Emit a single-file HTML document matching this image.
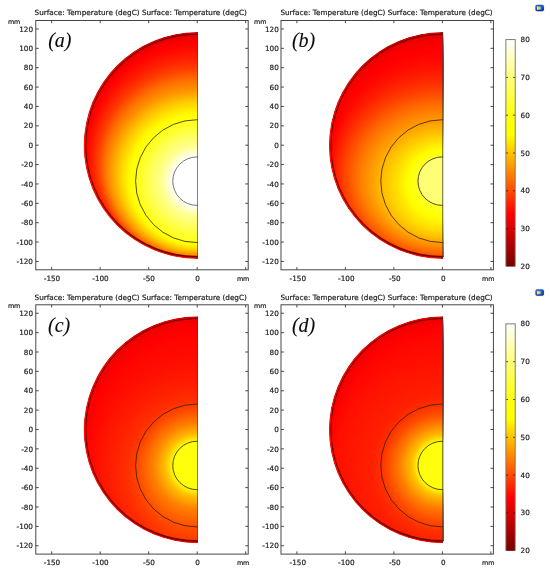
<!DOCTYPE html>
<html lang="en"><head><meta charset="utf-8"><title>Surface: Temperature (degC)</title><style>html,body{margin:0;padding:0;background:#fff}svg{display:block}</style></head><body>
<svg width="550" height="575" viewBox="0 0 550 575">
<rect width="550" height="575" fill="#fff"/>
<clipPath id="clipa"><path d="M197.90 32.07H197.00A113.43 113.43 0 0 0 197.00 258.93h0.9Z"/></clipPath>
<clipPath id="clipai"><circle cx="197.00" cy="145.50" r="111.21"/></clipPath>
<g clip-path="url(#clipa)">
<linearGradient id="sha" x1="0" y1="0" x2="0" y2="1"><stop offset="0" stop-color="#cc0000"/><stop offset="0.45" stop-color="#ff1800"/></linearGradient>
<circle cx="197.00" cy="145.50" r="113.43" fill="url(#sha)"/>
<g clip-path="url(#clipai)">
<ellipse cx="197.00" cy="151.80" rx="115.28" ry="117.70" fill="#e00000"/>
<ellipse cx="197.00" cy="152.18" rx="114.69" ry="116.92" fill="#e50000"/>
<ellipse cx="197.00" cy="152.57" rx="114.11" ry="116.15" fill="#eb0000"/>
<ellipse cx="197.00" cy="152.96" rx="113.53" ry="115.37" fill="#f00000"/>
<ellipse cx="197.00" cy="153.35" rx="112.95" ry="114.60" fill="#f50000"/>
<ellipse cx="197.00" cy="153.73" rx="112.37" ry="113.82" fill="#fa0000"/>
<ellipse cx="197.00" cy="154.15" rx="111.95" ry="113.13" fill="#fc0000"/>
<ellipse cx="197.00" cy="154.56" rx="111.54" ry="112.44" fill="#fe0000"/>
<ellipse cx="197.00" cy="154.98" rx="111.12" ry="111.75" fill="#ff0200"/>
<ellipse cx="197.00" cy="155.39" rx="110.71" ry="111.05" fill="#ff0400"/>
<ellipse cx="197.00" cy="155.81" rx="110.29" ry="110.36" fill="#ff0600"/>
<ellipse cx="197.00" cy="156.22" rx="109.88" ry="109.67" fill="#ff0800"/>
<ellipse cx="197.00" cy="156.64" rx="109.46" ry="108.98" fill="#ff0b00"/>
<ellipse cx="197.00" cy="157.06" rx="108.92" ry="108.19" fill="#ff0d00"/>
<ellipse cx="197.00" cy="157.49" rx="108.37" ry="107.40" fill="#ff1000"/>
<ellipse cx="197.00" cy="157.91" rx="107.83" ry="106.62" fill="#ff1300"/>
<ellipse cx="197.00" cy="158.34" rx="107.28" ry="105.83" fill="#ff1500"/>
<ellipse cx="197.00" cy="158.76" rx="106.74" ry="105.04" fill="#ff1800"/>
<ellipse cx="197.00" cy="159.18" rx="106.19" ry="104.26" fill="#ff1b00"/>
<ellipse cx="197.00" cy="159.61" rx="105.65" ry="103.47" fill="#ff1d00"/>
<ellipse cx="197.00" cy="160.03" rx="105.10" ry="102.68" fill="#ff2000"/>
<ellipse cx="197.00" cy="160.46" rx="104.46" ry="101.93" fill="#ff2300"/>
<ellipse cx="197.00" cy="160.89" rx="103.81" ry="101.18" fill="#ff2700"/>
<ellipse cx="197.00" cy="161.32" rx="103.17" ry="100.42" fill="#ff2a00"/>
<ellipse cx="197.00" cy="161.75" rx="102.52" ry="99.67" fill="#ff2e00"/>
<ellipse cx="197.00" cy="162.18" rx="101.87" ry="98.92" fill="#ff3200"/>
<ellipse cx="197.00" cy="162.61" rx="101.23" ry="98.16" fill="#ff3500"/>
<ellipse cx="197.00" cy="163.04" rx="100.58" ry="97.41" fill="#ff3900"/>
<ellipse cx="197.00" cy="163.47" rx="99.94" ry="96.65" fill="#ff3c00"/>
<ellipse cx="197.00" cy="163.91" rx="99.29" ry="95.90" fill="#ff4000"/>
<ellipse cx="197.00" cy="164.36" rx="98.59" ry="95.12" fill="#ff4500"/>
<ellipse cx="197.00" cy="164.82" rx="97.89" ry="94.34" fill="#ff4a00"/>
<ellipse cx="197.00" cy="165.28" rx="97.19" ry="93.56" fill="#ff5000"/>
<ellipse cx="197.00" cy="165.74" rx="96.49" ry="92.78" fill="#ff5500"/>
<ellipse cx="197.00" cy="166.19" rx="95.79" ry="92.00" fill="#ff5a00"/>
<ellipse cx="197.00" cy="166.65" rx="95.09" ry="91.22" fill="#ff6000"/>
<ellipse cx="197.00" cy="167.11" rx="94.39" ry="90.44" fill="#ff6500"/>
<ellipse cx="197.00" cy="167.56" rx="93.69" ry="89.66" fill="#ff6a00"/>
<ellipse cx="197.00" cy="168.02" rx="93.00" ry="88.88" fill="#ff7000"/>
<ellipse cx="197.00" cy="168.48" rx="92.35" ry="88.15" fill="#ff7400"/>
<ellipse cx="197.00" cy="168.94" rx="91.70" ry="87.43" fill="#ff7800"/>
<ellipse cx="197.00" cy="169.39" rx="91.06" ry="86.70" fill="#ff7c00"/>
<ellipse cx="197.00" cy="169.85" rx="90.41" ry="85.97" fill="#ff8000"/>
<ellipse cx="197.00" cy="170.31" rx="89.77" ry="85.25" fill="#ff8400"/>
<ellipse cx="197.00" cy="170.77" rx="89.12" ry="84.52" fill="#ff8800"/>
<ellipse cx="197.00" cy="171.22" rx="88.47" ry="83.79" fill="#ff8c00"/>
<ellipse cx="197.00" cy="171.68" rx="87.83" ry="83.07" fill="#ff9100"/>
<ellipse cx="197.00" cy="172.14" rx="87.18" ry="82.34" fill="#ff9500"/>
<ellipse cx="197.00" cy="172.43" rx="86.42" ry="81.73" fill="#ff9900"/>
<ellipse cx="197.00" cy="172.72" rx="85.65" ry="81.11" fill="#ff9e00"/>
<ellipse cx="197.00" cy="173.01" rx="84.88" ry="80.50" fill="#ffa200"/>
<ellipse cx="197.00" cy="173.30" rx="84.12" ry="79.89" fill="#ffa600"/>
<ellipse cx="197.00" cy="173.59" rx="83.35" ry="79.27" fill="#ffab00"/>
<ellipse cx="197.00" cy="173.88" rx="82.58" ry="78.66" fill="#ffaf00"/>
<ellipse cx="197.00" cy="174.17" rx="81.81" ry="78.04" fill="#ffb400"/>
<ellipse cx="197.00" cy="174.46" rx="81.05" ry="77.43" fill="#ffb800"/>
<ellipse cx="197.00" cy="174.75" rx="80.28" ry="76.82" fill="#ffbd00"/>
<ellipse cx="197.00" cy="175.05" rx="79.51" ry="76.20" fill="#ffc100"/>
<ellipse cx="197.00" cy="175.34" rx="78.75" ry="75.59" fill="#ffc500"/>
<ellipse cx="197.00" cy="175.63" rx="77.98" ry="74.98" fill="#ffca00"/>
<ellipse cx="197.00" cy="175.92" rx="77.23" ry="74.29" fill="#ffce00"/>
<ellipse cx="197.00" cy="176.21" rx="76.48" ry="73.60" fill="#ffd200"/>
<ellipse cx="197.00" cy="176.50" rx="75.73" ry="72.92" fill="#ffd500"/>
<ellipse cx="197.00" cy="176.79" rx="74.99" ry="72.23" fill="#ffd900"/>
<ellipse cx="197.00" cy="177.08" rx="74.24" ry="71.54" fill="#ffdd00"/>
<ellipse cx="197.00" cy="177.37" rx="73.49" ry="70.86" fill="#ffe100"/>
<ellipse cx="197.00" cy="177.66" rx="72.74" ry="70.17" fill="#ffe500"/>
<ellipse cx="197.00" cy="177.95" rx="71.99" ry="69.48" fill="#ffe900"/>
<ellipse cx="197.00" cy="178.24" rx="71.24" ry="68.80" fill="#ffed00"/>
<ellipse cx="197.00" cy="178.53" rx="70.49" ry="68.11" fill="#fff100"/>
<ellipse cx="197.00" cy="178.82" rx="69.75" ry="67.42" fill="#fff400"/>
<ellipse cx="197.00" cy="179.03" rx="68.99" ry="66.88" fill="#fff700"/>
<ellipse cx="197.00" cy="179.25" rx="68.23" ry="66.33" fill="#fffa00"/>
<ellipse cx="197.00" cy="179.46" rx="67.47" ry="65.78" fill="#fffd00"/>
<ellipse cx="197.00" cy="179.67" rx="66.72" ry="65.24" fill="#ffff01"/>
<ellipse cx="197.00" cy="179.88" rx="65.96" ry="64.69" fill="#ffff04"/>
<ellipse cx="197.00" cy="180.09" rx="65.20" ry="64.15" fill="#ffff07"/>
<ellipse cx="197.00" cy="180.30" rx="64.44" ry="63.60" fill="#ffff0b"/>
<ellipse cx="197.00" cy="180.51" rx="63.69" ry="63.05" fill="#ffff0e"/>
<ellipse cx="197.00" cy="180.73" rx="62.93" ry="62.51" fill="#ffff11"/>
<ellipse cx="197.00" cy="180.94" rx="62.17" ry="61.96" fill="#ffff14"/>
<circle cx="197.00" cy="181.15" r="61.42" fill="#ffff17"/>
<circle cx="197.00" cy="181.15" r="60.64" fill="#ffff1a"/>
<circle cx="197.00" cy="181.15" r="59.87" fill="#ffff1d"/>
<circle cx="197.00" cy="181.15" r="59.09" fill="#ffff20"/>
<circle cx="197.00" cy="181.15" r="58.32" fill="#ffff23"/>
<circle cx="197.00" cy="181.15" r="57.54" fill="#ffff26"/>
<circle cx="197.00" cy="181.15" r="56.77" fill="#ffff29"/>
<circle cx="197.00" cy="181.15" r="55.99" fill="#ffff2b"/>
<circle cx="197.00" cy="181.15" r="55.22" fill="#ffff2e"/>
<circle cx="197.00" cy="181.15" r="54.42" fill="#ffff33"/>
<circle cx="197.00" cy="181.15" r="53.63" fill="#ffff37"/>
<circle cx="197.00" cy="181.15" r="52.84" fill="#ffff3b"/>
<circle cx="197.00" cy="181.15" r="52.05" fill="#ffff3f"/>
<circle cx="197.00" cy="181.15" r="51.25" fill="#ffff43"/>
<circle cx="197.00" cy="181.15" r="50.46" fill="#ffff48"/>
<circle cx="197.00" cy="181.15" r="49.67" fill="#ffff4c"/>
<circle cx="197.00" cy="181.15" r="48.88" fill="#ffff50"/>
<circle cx="197.00" cy="181.15" r="48.08" fill="#ffff54"/>
<circle cx="197.00" cy="181.15" r="47.29" fill="#ffff59"/>
<circle cx="197.00" cy="181.15" r="46.50" fill="#ffff5d"/>
<circle cx="197.00" cy="181.15" r="45.74" fill="#ffff60"/>
<circle cx="197.00" cy="181.15" r="44.98" fill="#ffff64"/>
<circle cx="197.00" cy="181.15" r="44.21" fill="#ffff68"/>
<circle cx="197.00" cy="181.15" r="43.45" fill="#ffff6c"/>
<circle cx="197.00" cy="181.15" r="42.69" fill="#ffff6f"/>
<circle cx="197.00" cy="181.15" r="41.93" fill="#ffff73"/>
<circle cx="197.00" cy="181.15" r="41.17" fill="#ffff77"/>
<circle cx="197.00" cy="181.15" r="40.41" fill="#ffff7b"/>
<circle cx="197.00" cy="181.15" r="39.65" fill="#ffff7e"/>
<circle cx="197.00" cy="181.15" r="38.89" fill="#ffff82"/>
<circle cx="197.00" cy="181.15" r="38.13" fill="#ffff86"/>
<circle cx="197.00" cy="181.15" r="37.36" fill="#ffff89"/>
<circle cx="197.00" cy="181.15" r="36.60" fill="#ffff8d"/>
<circle cx="197.00" cy="181.15" r="35.84" fill="#ffff91"/>
<circle cx="197.00" cy="181.15" r="35.09" fill="#ffff98"/>
<circle cx="197.00" cy="181.15" r="34.34" fill="#ffff9f"/>
<circle cx="197.00" cy="181.15" r="33.58" fill="#ffffa6"/>
<circle cx="197.00" cy="181.15" r="32.83" fill="#ffffad"/>
<circle cx="197.00" cy="181.15" r="32.07" fill="#ffffb4"/>
<circle cx="197.00" cy="181.15" r="31.32" fill="#ffffbb"/>
<circle cx="197.00" cy="181.15" r="30.57" fill="#ffffc2"/>
<circle cx="197.00" cy="181.15" r="29.81" fill="#ffffca"/>
<circle cx="197.00" cy="181.15" r="29.06" fill="#ffffd1"/>
<circle cx="197.00" cy="181.15" r="28.37" fill="#ffffd7"/>
<circle cx="197.00" cy="181.15" r="27.68" fill="#ffffde"/>
<circle cx="197.00" cy="181.15" r="26.99" fill="#ffffe5"/>
<circle cx="197.00" cy="181.15" r="26.29" fill="#ffffeb"/>
<circle cx="197.00" cy="181.15" r="25.60" fill="#fffff2"/>
<circle cx="197.00" cy="181.15" r="24.91" fill="#fffff8"/>
<circle cx="197.00" cy="181.15" r="24.22" fill="#ffffff"/>
<circle cx="197.00" cy="181.15" r="24.22" fill="#ffffff"/>
</g>
<g fill="none">
<linearGradient id="bda" x1="0" y1="0" x2="0" y2="1"><stop offset="0.55" stop-color="#8a0000" stop-opacity="0"/><stop offset="0.92" stop-color="#8a0000" stop-opacity="0.7"/></linearGradient>
<circle cx="197.00" cy="145.50" r="111.31" stroke="url(#bda)" stroke-width="2.0"/>
<circle cx="197.00" cy="145.50" r="111.21" stroke="#4a0000" stroke-width="0.85"/>
<circle cx="197.00" cy="181.15" r="61.42" stroke="#2e1c00" stroke-width="0.78"/>
<circle cx="197.00" cy="181.15" r="24.22" stroke="#666666" stroke-width="0.9"/>
</g>
<rect x="197.20" y="32.07" width="0.7" height="226.87" fill="#3c3c30"/>
</g>
<rect x="35.80" y="20.50" width="212.40" height="249.30" fill="none" stroke="#3e3e3e" stroke-width="0.95"/>
<path d="M35.80 261.44h2.9M248.20 261.44h-2.9M35.80 242.07h2.9M248.20 242.07h-2.9M35.80 222.70h2.9M248.20 222.70h-2.9M35.80 203.32h2.9M248.20 203.32h-2.9M35.80 183.95h2.9M248.20 183.95h-2.9M35.80 164.57h2.9M248.20 164.57h-2.9M35.80 145.20h2.9M248.20 145.20h-2.9M35.80 125.83h2.9M248.20 125.83h-2.9M35.80 106.45h2.9M248.20 106.45h-2.9M35.80 87.08h2.9M248.20 87.08h-2.9M35.80 67.70h2.9M248.20 67.70h-2.9M35.80 48.33h2.9M248.20 48.33h-2.9M35.80 28.96h2.9M248.20 28.96h-2.9M51.70 20.50v2.7M51.70 269.80v-2.7M100.20 20.50v2.7M100.20 269.80v-2.7M148.70 20.50v2.7M148.70 269.80v-2.7M197.20 20.50v2.7M197.20 269.80v-2.7M245.70 20.50v2.7M245.70 269.80v-2.7" stroke="#3e3e3e" stroke-width="0.95" fill="none"/>
<g font-family='"DejaVu Sans","Liberation Sans",sans-serif' font-size="7.25" fill="#262626" stroke="#262626" stroke-width="0.22">
<text x="33.00" y="264.09" text-anchor="end">-120</text>
<text x="33.00" y="244.72" text-anchor="end">-100</text>
<text x="33.00" y="225.35" text-anchor="end">-80</text>
<text x="33.00" y="205.97" text-anchor="end">-60</text>
<text x="33.00" y="186.60" text-anchor="end">-40</text>
<text x="33.00" y="167.22" text-anchor="end">-20</text>
<text x="33.00" y="147.85" text-anchor="end">0</text>
<text x="33.00" y="128.48" text-anchor="end">20</text>
<text x="33.00" y="109.10" text-anchor="end">40</text>
<text x="33.00" y="89.73" text-anchor="end">60</text>
<text x="33.00" y="70.35" text-anchor="end">80</text>
<text x="33.00" y="50.98" text-anchor="end">100</text>
<text x="33.00" y="31.61" text-anchor="end">120</text>
<text x="52.00" y="280.80" text-anchor="middle">-150</text>
<text x="100.50" y="280.80" text-anchor="middle">-100</text>
<text x="149.00" y="280.80" text-anchor="middle">-50</text>
<text x="197.50" y="280.80" text-anchor="middle">0</text>
<text x="7.90" y="23.70" font-size="6.4">mm</text>
<text x="236.90" y="280.60" font-size="6.4">mm</text>
<text x="34.60" y="15.20">Surface: Temperature (degC) Surface: Temperature (degC)</text>
</g>
<text x="48.20" y="46.70" font-family='"Liberation Serif",serif' font-style="italic" font-size="20" fill="#0a0a0a" stroke="#0a0a0a" stroke-width="0.1">(a)</text>
<clipPath id="clipb"><path d="M443.10 32.07H442.20A113.43 113.43 0 0 0 442.20 258.93h0.9Z"/></clipPath>
<clipPath id="clipbi"><circle cx="442.20" cy="145.50" r="111.21"/></clipPath>
<g clip-path="url(#clipb)">
<linearGradient id="shb" x1="0" y1="0" x2="0" y2="1"><stop offset="0" stop-color="#d00000"/><stop offset="0.45" stop-color="#ff1400"/></linearGradient>
<circle cx="442.20" cy="145.50" r="113.43" fill="url(#shb)"/>
<g clip-path="url(#clipbi)">
<ellipse cx="442.20" cy="152.77" rx="116.73" ry="118.67" fill="#e00000"/>
<ellipse cx="442.20" cy="153.25" rx="116.24" ry="117.99" fill="#e40000"/>
<ellipse cx="442.20" cy="153.73" rx="115.76" ry="117.31" fill="#e90000"/>
<ellipse cx="442.20" cy="154.22" rx="115.28" ry="116.63" fill="#ed0000"/>
<ellipse cx="442.20" cy="154.70" rx="114.79" ry="115.95" fill="#f10000"/>
<ellipse cx="442.20" cy="155.19" rx="114.31" ry="115.28" fill="#f50000"/>
<ellipse cx="442.20" cy="155.74" rx="114.03" ry="114.58" fill="#f70000"/>
<ellipse cx="442.20" cy="156.29" rx="113.75" ry="113.89" fill="#f80000"/>
<ellipse cx="442.20" cy="156.85" rx="113.48" ry="113.20" fill="#f90000"/>
<ellipse cx="442.20" cy="157.40" rx="113.20" ry="112.51" fill="#fb0000"/>
<ellipse cx="442.20" cy="157.95" rx="112.92" ry="111.82" fill="#fc0000"/>
<ellipse cx="442.20" cy="158.51" rx="112.65" ry="111.12" fill="#fe0000"/>
<ellipse cx="442.20" cy="159.06" rx="112.37" ry="110.43" fill="#ff0000"/>
<ellipse cx="442.20" cy="159.60" rx="112.15" ry="109.68" fill="#ff0100"/>
<ellipse cx="442.20" cy="160.14" rx="111.94" ry="108.92" fill="#ff0200"/>
<ellipse cx="442.20" cy="160.68" rx="111.72" ry="108.17" fill="#ff0400"/>
<ellipse cx="442.20" cy="161.21" rx="111.51" ry="107.42" fill="#ff0500"/>
<ellipse cx="442.20" cy="161.75" rx="111.29" ry="106.66" fill="#ff0600"/>
<ellipse cx="442.20" cy="162.29" rx="111.08" ry="105.91" fill="#ff0700"/>
<ellipse cx="442.20" cy="162.83" rx="110.86" ry="105.16" fill="#ff0800"/>
<ellipse cx="442.20" cy="163.37" rx="110.65" ry="104.40" fill="#ff0900"/>
<ellipse cx="442.20" cy="163.91" rx="110.43" ry="103.65" fill="#ff0b00"/>
<ellipse cx="442.20" cy="164.43" rx="110.08" ry="102.86" fill="#ff0d00"/>
<ellipse cx="442.20" cy="164.96" rx="109.73" ry="102.07" fill="#ff0e00"/>
<ellipse cx="442.20" cy="165.49" rx="109.38" ry="101.27" fill="#ff1000"/>
<ellipse cx="442.20" cy="166.02" rx="109.02" ry="100.48" fill="#ff1200"/>
<ellipse cx="442.20" cy="166.55" rx="108.67" ry="99.69" fill="#ff1400"/>
<ellipse cx="442.20" cy="167.08" rx="108.32" ry="98.90" fill="#ff1600"/>
<ellipse cx="442.20" cy="167.60" rx="107.97" ry="98.10" fill="#ff1800"/>
<ellipse cx="442.20" cy="168.13" rx="107.61" ry="97.31" fill="#ff1a00"/>
<ellipse cx="442.20" cy="168.66" rx="107.26" ry="96.52" fill="#ff1c00"/>
<ellipse cx="442.20" cy="169.19" rx="106.91" ry="95.73" fill="#ff1e00"/>
<ellipse cx="442.20" cy="169.72" rx="106.56" ry="94.93" fill="#ff2000"/>
<ellipse cx="442.20" cy="170.09" rx="106.01" ry="94.19" fill="#ff2200"/>
<ellipse cx="442.20" cy="170.46" rx="105.47" ry="93.44" fill="#ff2500"/>
<ellipse cx="442.20" cy="170.84" rx="104.93" ry="92.70" fill="#ff2700"/>
<ellipse cx="442.20" cy="171.21" rx="104.38" ry="91.95" fill="#ff2a00"/>
<ellipse cx="442.20" cy="171.58" rx="103.84" ry="91.21" fill="#ff2c00"/>
<ellipse cx="442.20" cy="171.95" rx="103.29" ry="90.46" fill="#ff2f00"/>
<ellipse cx="442.20" cy="172.33" rx="102.75" ry="89.72" fill="#ff3100"/>
<ellipse cx="442.20" cy="172.70" rx="102.21" ry="88.97" fill="#ff3300"/>
<ellipse cx="442.20" cy="173.07" rx="101.66" ry="88.23" fill="#ff3600"/>
<ellipse cx="442.20" cy="173.44" rx="101.12" ry="87.48" fill="#ff3800"/>
<ellipse cx="442.20" cy="173.82" rx="100.57" ry="86.74" fill="#ff3b00"/>
<ellipse cx="442.20" cy="174.19" rx="100.03" ry="85.99" fill="#ff3d00"/>
<ellipse cx="442.20" cy="174.56" rx="99.49" ry="85.25" fill="#ff4000"/>
<ellipse cx="442.20" cy="174.76" rx="98.74" ry="84.60" fill="#ff4200"/>
<ellipse cx="442.20" cy="174.96" rx="98.00" ry="83.95" fill="#ff4500"/>
<ellipse cx="442.20" cy="175.17" rx="97.26" ry="83.31" fill="#ff4800"/>
<ellipse cx="442.20" cy="175.37" rx="96.51" ry="82.66" fill="#ff4a00"/>
<ellipse cx="442.20" cy="175.57" rx="95.77" ry="82.02" fill="#ff4d00"/>
<ellipse cx="442.20" cy="175.77" rx="95.03" ry="81.37" fill="#ff5000"/>
<ellipse cx="442.20" cy="175.97" rx="94.29" ry="80.73" fill="#ff5200"/>
<ellipse cx="442.20" cy="176.18" rx="93.54" ry="80.08" fill="#ff5500"/>
<ellipse cx="442.20" cy="176.38" rx="92.80" ry="79.43" fill="#ff5800"/>
<ellipse cx="442.20" cy="176.58" rx="92.06" ry="78.79" fill="#ff5a00"/>
<ellipse cx="442.20" cy="176.78" rx="91.32" ry="78.14" fill="#ff5d00"/>
<ellipse cx="442.20" cy="176.98" rx="90.57" ry="77.50" fill="#ff6000"/>
<ellipse cx="442.20" cy="177.20" rx="89.84" ry="76.79" fill="#ff6200"/>
<ellipse cx="442.20" cy="177.43" rx="89.10" ry="76.08" fill="#ff6500"/>
<ellipse cx="442.20" cy="177.65" rx="88.37" ry="75.38" fill="#ff6800"/>
<ellipse cx="442.20" cy="177.87" rx="87.64" ry="74.67" fill="#ff6a00"/>
<ellipse cx="442.20" cy="178.09" rx="86.90" ry="73.96" fill="#ff6d00"/>
<ellipse cx="442.20" cy="178.31" rx="86.17" ry="73.26" fill="#ff7000"/>
<ellipse cx="442.20" cy="178.54" rx="85.43" ry="72.55" fill="#ff7200"/>
<ellipse cx="442.20" cy="178.76" rx="84.70" ry="71.85" fill="#ff7500"/>
<ellipse cx="442.20" cy="178.98" rx="83.96" ry="71.14" fill="#ff7800"/>
<ellipse cx="442.20" cy="179.20" rx="83.23" ry="70.43" fill="#ff7a00"/>
<ellipse cx="442.20" cy="179.42" rx="82.49" ry="69.73" fill="#ff7d00"/>
<ellipse cx="442.20" cy="179.65" rx="81.76" ry="69.02" fill="#ff8000"/>
<ellipse cx="442.20" cy="179.85" rx="80.97" ry="68.40" fill="#ff8200"/>
<ellipse cx="442.20" cy="180.06" rx="80.18" ry="67.77" fill="#ff8400"/>
<ellipse cx="442.20" cy="180.27" rx="79.39" ry="67.15" fill="#ff8600"/>
<ellipse cx="442.20" cy="180.48" rx="78.60" ry="66.53" fill="#ff8900"/>
<ellipse cx="442.20" cy="180.68" rx="77.81" ry="65.91" fill="#ff8b00"/>
<ellipse cx="442.20" cy="180.89" rx="77.03" ry="65.28" fill="#ff8d00"/>
<ellipse cx="442.20" cy="181.10" rx="76.24" ry="64.66" fill="#ff8f00"/>
<ellipse cx="442.20" cy="181.31" rx="75.45" ry="64.04" fill="#ff9200"/>
<ellipse cx="442.20" cy="181.51" rx="74.66" ry="63.42" fill="#ff9400"/>
<ellipse cx="442.20" cy="181.72" rx="73.87" ry="62.79" fill="#ff9600"/>
<ellipse cx="442.20" cy="181.93" rx="73.08" ry="62.17" fill="#ff9900"/>
<ellipse cx="442.20" cy="182.14" rx="72.29" ry="61.55" fill="#ff9b00"/>
<ellipse cx="442.20" cy="182.35" rx="71.50" ry="60.92" fill="#ff9d00"/>
<ellipse cx="442.20" cy="182.55" rx="70.72" ry="60.30" fill="#ff9f00"/>
<ellipse cx="442.20" cy="182.70" rx="69.97" ry="59.80" fill="#ffa200"/>
<ellipse cx="442.20" cy="182.84" rx="69.22" ry="59.30" fill="#ffa400"/>
<ellipse cx="442.20" cy="182.99" rx="68.47" ry="58.80" fill="#ffa600"/>
<ellipse cx="442.20" cy="183.13" rx="67.72" ry="58.30" fill="#ffa800"/>
<ellipse cx="442.20" cy="183.28" rx="66.97" ry="57.80" fill="#ffaa00"/>
<ellipse cx="442.20" cy="183.42" rx="66.22" ry="57.30" fill="#ffac00"/>
<ellipse cx="442.20" cy="183.57" rx="65.47" ry="56.80" fill="#ffae00"/>
<ellipse cx="442.20" cy="183.72" rx="64.72" ry="56.30" fill="#ffb000"/>
<ellipse cx="442.20" cy="183.86" rx="63.97" ry="55.80" fill="#ffb200"/>
<ellipse cx="442.20" cy="184.01" rx="63.22" ry="55.30" fill="#ffb500"/>
<ellipse cx="442.20" cy="184.15" rx="62.47" ry="54.80" fill="#ffb700"/>
<ellipse cx="442.20" cy="184.30" rx="61.73" ry="54.30" fill="#ffb900"/>
<ellipse cx="442.20" cy="184.44" rx="60.98" ry="53.80" fill="#ffbb00"/>
<ellipse cx="442.20" cy="184.59" rx="60.23" ry="53.29" fill="#ffbd00"/>
<ellipse cx="442.20" cy="184.73" rx="59.48" ry="52.79" fill="#ffbf00"/>
<ellipse cx="442.20" cy="184.76" rx="58.70" ry="52.31" fill="#ffc100"/>
<ellipse cx="442.20" cy="184.79" rx="57.92" ry="51.83" fill="#ffc300"/>
<ellipse cx="442.20" cy="184.82" rx="57.14" ry="51.34" fill="#ffc500"/>
<ellipse cx="442.20" cy="184.85" rx="56.36" ry="50.86" fill="#ffc700"/>
<ellipse cx="442.20" cy="184.87" rx="55.57" ry="50.37" fill="#ffc900"/>
<ellipse cx="442.20" cy="184.90" rx="54.79" ry="49.89" fill="#ffcb00"/>
<ellipse cx="442.20" cy="184.93" rx="54.01" ry="49.40" fill="#ffcc00"/>
<ellipse cx="442.20" cy="184.96" rx="53.23" ry="48.92" fill="#ffce00"/>
<ellipse cx="442.20" cy="184.99" rx="52.45" ry="48.44" fill="#ffd000"/>
<ellipse cx="442.20" cy="185.02" rx="51.67" ry="47.95" fill="#ffd200"/>
<ellipse cx="442.20" cy="185.05" rx="50.89" ry="47.47" fill="#ffd400"/>
<ellipse cx="442.20" cy="185.07" rx="50.11" ry="46.98" fill="#ffd600"/>
<ellipse cx="442.20" cy="185.10" rx="49.33" ry="46.50" fill="#ffd800"/>
<ellipse cx="442.20" cy="185.13" rx="48.55" ry="46.01" fill="#ffda00"/>
<ellipse cx="442.20" cy="185.16" rx="47.77" ry="45.53" fill="#ffdb00"/>
<ellipse cx="442.20" cy="185.19" rx="46.99" ry="45.04" fill="#ffdd00"/>
<ellipse cx="442.20" cy="185.22" rx="46.21" ry="44.56" fill="#ffdf00"/>
<ellipse cx="442.20" cy="185.12" rx="45.45" ry="43.88" fill="#ffe100"/>
<ellipse cx="442.20" cy="185.02" rx="44.70" ry="43.20" fill="#ffe300"/>
<ellipse cx="442.20" cy="184.93" rx="43.94" ry="42.53" fill="#ffe600"/>
<ellipse cx="442.20" cy="184.83" rx="43.18" ry="41.85" fill="#ffe800"/>
<ellipse cx="442.20" cy="184.73" rx="42.43" ry="41.17" fill="#ffea00"/>
<ellipse cx="442.20" cy="184.64" rx="41.67" ry="40.49" fill="#ffec00"/>
<ellipse cx="442.20" cy="184.54" rx="40.92" ry="39.81" fill="#ffee00"/>
<ellipse cx="442.20" cy="184.44" rx="40.16" ry="39.14" fill="#fff000"/>
<ellipse cx="442.20" cy="184.34" rx="39.41" ry="38.46" fill="#fff200"/>
<ellipse cx="442.20" cy="184.25" rx="38.65" ry="37.78" fill="#fff400"/>
<ellipse cx="442.20" cy="184.15" rx="37.90" ry="37.10" fill="#fff700"/>
<ellipse cx="442.20" cy="184.05" rx="37.14" ry="36.42" fill="#fff900"/>
<ellipse cx="442.20" cy="183.96" rx="36.38" ry="35.75" fill="#fffb00"/>
<ellipse cx="442.20" cy="183.86" rx="35.63" ry="35.07" fill="#fffd00"/>
<ellipse cx="442.20" cy="183.76" rx="34.87" ry="34.39" fill="#ffff00"/>
<ellipse cx="442.20" cy="183.58" rx="34.11" ry="33.66" fill="#ffff03"/>
<ellipse cx="442.20" cy="183.39" rx="33.35" ry="32.94" fill="#ffff06"/>
<ellipse cx="442.20" cy="183.20" rx="32.59" ry="32.21" fill="#ffff09"/>
<ellipse cx="442.20" cy="183.02" rx="31.83" ry="31.48" fill="#ffff0c"/>
<ellipse cx="442.20" cy="182.83" rx="31.07" ry="30.76" fill="#ffff0e"/>
<ellipse cx="442.20" cy="182.64" rx="30.31" ry="30.03" fill="#ffff11"/>
<ellipse cx="442.20" cy="182.46" rx="29.55" ry="29.30" fill="#ffff14"/>
<ellipse cx="442.20" cy="182.27" rx="28.78" ry="28.58" fill="#ffff17"/>
<ellipse cx="442.20" cy="182.08" rx="28.02" ry="27.85" fill="#ffff1a"/>
<ellipse cx="442.20" cy="181.90" rx="27.26" ry="27.12" fill="#ffff1d"/>
<ellipse cx="442.20" cy="181.71" rx="26.50" ry="26.40" fill="#ffff20"/>
<ellipse cx="442.20" cy="181.52" rx="25.74" ry="25.67" fill="#ffff23"/>
<ellipse cx="442.20" cy="181.33" rx="24.98" ry="24.94" fill="#ffff26"/>
<circle cx="442.20" cy="181.15" r="24.22" fill="#ffff29"/>
<circle cx="442.20" cy="181.15" r="24.22" fill="#ffff74"/>
</g>
<g fill="none">
<linearGradient id="bdb" x1="0" y1="0" x2="0" y2="1"><stop offset="0.55" stop-color="#8a0000" stop-opacity="0"/><stop offset="0.92" stop-color="#8a0000" stop-opacity="0.7"/></linearGradient>
<circle cx="442.20" cy="145.50" r="111.31" stroke="url(#bdb)" stroke-width="2.0"/>
<circle cx="442.20" cy="145.50" r="111.21" stroke="#4a0000" stroke-width="0.85"/>
<circle cx="442.20" cy="181.15" r="61.42" stroke="#2e1c00" stroke-width="0.78"/>
<circle cx="442.20" cy="181.15" r="24.22" stroke="#3a3a10" stroke-width="0.9"/>
</g>
<rect x="442.40" y="32.07" width="0.7" height="226.87" fill="#3c3c30"/>
</g>
<rect x="281.00" y="20.50" width="212.40" height="249.30" fill="none" stroke="#3e3e3e" stroke-width="0.95"/>
<path d="M281.00 261.44h2.9M493.40 261.44h-2.9M281.00 242.07h2.9M493.40 242.07h-2.9M281.00 222.70h2.9M493.40 222.70h-2.9M281.00 203.32h2.9M493.40 203.32h-2.9M281.00 183.95h2.9M493.40 183.95h-2.9M281.00 164.57h2.9M493.40 164.57h-2.9M281.00 145.20h2.9M493.40 145.20h-2.9M281.00 125.83h2.9M493.40 125.83h-2.9M281.00 106.45h2.9M493.40 106.45h-2.9M281.00 87.08h2.9M493.40 87.08h-2.9M281.00 67.70h2.9M493.40 67.70h-2.9M281.00 48.33h2.9M493.40 48.33h-2.9M281.00 28.96h2.9M493.40 28.96h-2.9M296.90 20.50v2.7M296.90 269.80v-2.7M345.40 20.50v2.7M345.40 269.80v-2.7M393.90 20.50v2.7M393.90 269.80v-2.7M442.40 20.50v2.7M442.40 269.80v-2.7M490.90 20.50v2.7M490.90 269.80v-2.7" stroke="#3e3e3e" stroke-width="0.95" fill="none"/>
<g font-family='"DejaVu Sans","Liberation Sans",sans-serif' font-size="7.25" fill="#262626" stroke="#262626" stroke-width="0.22">
<text x="278.80" y="264.09" text-anchor="end">-120</text>
<text x="278.80" y="244.72" text-anchor="end">-100</text>
<text x="278.80" y="225.35" text-anchor="end">-80</text>
<text x="278.80" y="205.97" text-anchor="end">-60</text>
<text x="278.80" y="186.60" text-anchor="end">-40</text>
<text x="278.80" y="167.22" text-anchor="end">-20</text>
<text x="278.80" y="147.85" text-anchor="end">0</text>
<text x="278.80" y="128.48" text-anchor="end">20</text>
<text x="278.80" y="109.10" text-anchor="end">40</text>
<text x="278.80" y="89.73" text-anchor="end">60</text>
<text x="278.80" y="70.35" text-anchor="end">80</text>
<text x="278.80" y="50.98" text-anchor="end">100</text>
<text x="278.80" y="31.61" text-anchor="end">120</text>
<text x="297.80" y="280.80" text-anchor="middle">-150</text>
<text x="346.30" y="280.80" text-anchor="middle">-100</text>
<text x="394.80" y="280.80" text-anchor="middle">-50</text>
<text x="443.30" y="280.80" text-anchor="middle">0</text>
<text x="254.00" y="23.70" font-size="6.4">mm</text>
<text x="482.10" y="280.60" font-size="6.4">mm</text>
<text x="280.40" y="15.20">Surface: Temperature (degC) Surface: Temperature (degC)</text>
</g>
<text x="291.90" y="46.50" font-family='"Liberation Serif",serif' font-style="italic" font-size="20" fill="#0a0a0a" stroke="#0a0a0a" stroke-width="0.1">(b)</text>
<clipPath id="clipc"><path d="M197.90 316.37H197.00A113.43 113.43 0 0 0 197.00 543.23h0.9Z"/></clipPath>
<clipPath id="clipci"><circle cx="197.00" cy="429.80" r="111.21"/></clipPath>
<g clip-path="url(#clipc)">
<linearGradient id="shc" x1="0" y1="0" x2="0" y2="1"><stop offset="0" stop-color="#e00000"/><stop offset="0.45" stop-color="#ff1000"/></linearGradient>
<circle cx="197.00" cy="429.80" r="113.43" fill="url(#shc)"/>
<g clip-path="url(#clipci)">
<ellipse cx="197.00" cy="445.30" rx="117.21" ry="126.90" fill="#ec0000"/>
<ellipse cx="197.00" cy="445.70" rx="116.65" ry="126.17" fill="#ee0000"/>
<ellipse cx="197.00" cy="446.11" rx="116.08" ry="125.45" fill="#f10000"/>
<ellipse cx="197.00" cy="446.51" rx="115.52" ry="124.72" fill="#f30000"/>
<ellipse cx="197.00" cy="446.91" rx="114.95" ry="123.99" fill="#f50000"/>
<ellipse cx="197.00" cy="447.32" rx="114.39" ry="123.27" fill="#f80000"/>
<ellipse cx="197.00" cy="447.72" rx="113.82" ry="122.54" fill="#fa0000"/>
<ellipse cx="197.00" cy="448.21" rx="113.39" ry="121.77" fill="#fb0000"/>
<ellipse cx="197.00" cy="448.69" rx="112.95" ry="120.99" fill="#fc0000"/>
<ellipse cx="197.00" cy="449.17" rx="112.51" ry="120.22" fill="#fd0000"/>
<ellipse cx="197.00" cy="449.66" rx="112.08" ry="119.44" fill="#fe0000"/>
<ellipse cx="197.00" cy="450.14" rx="111.64" ry="118.67" fill="#ff0000"/>
<ellipse cx="197.00" cy="450.63" rx="111.21" ry="117.89" fill="#ff0100"/>
<ellipse cx="197.00" cy="451.11" rx="110.77" ry="117.12" fill="#ff0200"/>
<ellipse cx="197.00" cy="451.60" rx="110.33" ry="116.34" fill="#ff0300"/>
<ellipse cx="197.00" cy="452.08" rx="109.90" ry="115.57" fill="#ff0400"/>
<ellipse cx="197.00" cy="452.56" rx="109.46" ry="114.79" fill="#ff0500"/>
<ellipse cx="197.00" cy="453.13" rx="109.03" ry="114.03" fill="#ff0600"/>
<ellipse cx="197.00" cy="453.69" rx="108.60" ry="113.26" fill="#ff0600"/>
<ellipse cx="197.00" cy="454.25" rx="108.16" ry="112.50" fill="#ff0700"/>
<ellipse cx="197.00" cy="454.81" rx="107.73" ry="111.73" fill="#ff0800"/>
<ellipse cx="197.00" cy="455.37" rx="107.30" ry="110.97" fill="#ff0800"/>
<ellipse cx="197.00" cy="455.93" rx="106.86" ry="110.20" fill="#ff0900"/>
<ellipse cx="197.00" cy="456.49" rx="106.43" ry="109.44" fill="#ff0900"/>
<ellipse cx="197.00" cy="457.05" rx="106.00" ry="108.67" fill="#ff0a00"/>
<ellipse cx="197.00" cy="457.61" rx="105.56" ry="107.91" fill="#ff0a00"/>
<ellipse cx="197.00" cy="458.17" rx="105.13" ry="107.14" fill="#ff0b00"/>
<ellipse cx="197.00" cy="458.73" rx="104.70" ry="106.38" fill="#ff0b00"/>
<ellipse cx="197.00" cy="459.29" rx="104.26" ry="105.61" fill="#ff0c00"/>
<ellipse cx="197.00" cy="459.86" rx="103.83" ry="104.85" fill="#ff0d00"/>
<ellipse cx="197.00" cy="460.42" rx="103.40" ry="104.08" fill="#ff0d00"/>
<ellipse cx="197.00" cy="460.98" rx="102.96" ry="103.32" fill="#ff0e00"/>
<ellipse cx="197.00" cy="461.54" rx="102.53" ry="102.55" fill="#ff0e00"/>
<ellipse cx="197.00" cy="462.10" rx="102.10" ry="101.79" fill="#ff0f00"/>
<ellipse cx="197.00" cy="462.66" rx="101.66" ry="101.03" fill="#ff0f00"/>
<ellipse cx="197.00" cy="463.22" rx="101.23" ry="100.26" fill="#ff1000"/>
<ellipse cx="197.00" cy="463.58" rx="100.45" ry="99.51" fill="#ff1100"/>
<ellipse cx="197.00" cy="463.95" rx="99.67" ry="98.76" fill="#ff1200"/>
<ellipse cx="197.00" cy="464.31" rx="98.89" ry="98.01" fill="#ff1200"/>
<ellipse cx="197.00" cy="464.67" rx="98.11" ry="97.26" fill="#ff1300"/>
<ellipse cx="197.00" cy="465.04" rx="97.33" ry="96.51" fill="#ff1400"/>
<ellipse cx="197.00" cy="465.40" rx="96.55" ry="95.76" fill="#ff1500"/>
<ellipse cx="197.00" cy="465.76" rx="95.77" ry="95.01" fill="#ff1600"/>
<ellipse cx="197.00" cy="466.13" rx="94.99" ry="94.25" fill="#ff1600"/>
<ellipse cx="197.00" cy="466.49" rx="94.21" ry="93.50" fill="#ff1700"/>
<ellipse cx="197.00" cy="466.85" rx="93.43" ry="92.75" fill="#ff1800"/>
<ellipse cx="197.00" cy="467.22" rx="92.65" ry="92.00" fill="#ff1900"/>
<ellipse cx="197.00" cy="467.58" rx="91.87" ry="91.25" fill="#ff1900"/>
<ellipse cx="197.00" cy="467.94" rx="91.09" ry="90.50" fill="#ff1a00"/>
<ellipse cx="197.00" cy="468.31" rx="90.31" ry="89.75" fill="#ff1b00"/>
<ellipse cx="197.00" cy="468.67" rx="89.53" ry="89.00" fill="#ff1c00"/>
<ellipse cx="197.00" cy="469.03" rx="88.75" ry="88.25" fill="#ff1d00"/>
<ellipse cx="197.00" cy="469.40" rx="87.97" ry="87.50" fill="#ff1d00"/>
<ellipse cx="197.00" cy="469.76" rx="87.19" ry="86.75" fill="#ff1e00"/>
<ellipse cx="197.00" cy="470.12" rx="86.41" ry="86.00" fill="#ff1f00"/>
<ellipse cx="197.00" cy="470.49" rx="85.63" ry="85.25" fill="#ff2000"/>
<ellipse cx="197.00" cy="470.66" rx="84.85" ry="84.66" fill="#ff2100"/>
<ellipse cx="197.00" cy="470.84" rx="84.06" ry="84.07" fill="#ff2200"/>
<ellipse cx="197.00" cy="471.02" rx="83.28" ry="83.49" fill="#ff2200"/>
<ellipse cx="197.00" cy="471.20" rx="82.49" ry="82.90" fill="#ff2300"/>
<ellipse cx="197.00" cy="471.38" rx="81.71" ry="82.31" fill="#ff2400"/>
<ellipse cx="197.00" cy="471.56" rx="80.92" ry="81.73" fill="#ff2500"/>
<ellipse cx="197.00" cy="471.73" rx="80.14" ry="81.14" fill="#ff2600"/>
<ellipse cx="197.00" cy="471.91" rx="79.35" ry="80.56" fill="#ff2700"/>
<ellipse cx="197.00" cy="472.09" rx="78.57" ry="79.97" fill="#ff2700"/>
<ellipse cx="197.00" cy="472.27" rx="77.78" ry="79.38" fill="#ff2800"/>
<ellipse cx="197.00" cy="472.45" rx="77.00" ry="78.80" fill="#ff2900"/>
<ellipse cx="197.00" cy="472.63" rx="76.21" ry="78.21" fill="#ff2a00"/>
<ellipse cx="197.00" cy="472.81" rx="75.43" ry="77.62" fill="#ff2b00"/>
<ellipse cx="197.00" cy="472.98" rx="74.64" ry="77.04" fill="#ff2c00"/>
<ellipse cx="197.00" cy="473.16" rx="73.86" ry="76.45" fill="#ff2c00"/>
<ellipse cx="197.00" cy="473.34" rx="73.07" ry="75.86" fill="#ff2d00"/>
<ellipse cx="197.00" cy="473.52" rx="72.29" ry="75.28" fill="#ff2e00"/>
<ellipse cx="197.00" cy="473.70" rx="71.50" ry="74.69" fill="#ff2f00"/>
<ellipse cx="197.00" cy="473.88" rx="70.72" ry="74.11" fill="#ff3000"/>
<ellipse cx="197.00" cy="473.70" rx="69.97" ry="73.40" fill="#ff3100"/>
<ellipse cx="197.00" cy="473.52" rx="69.22" ry="72.70" fill="#ff3300"/>
<ellipse cx="197.00" cy="473.35" rx="68.47" ry="71.99" fill="#ff3400"/>
<ellipse cx="197.00" cy="473.17" rx="67.72" ry="71.29" fill="#ff3600"/>
<ellipse cx="197.00" cy="473.00" rx="66.97" ry="70.58" fill="#ff3700"/>
<ellipse cx="197.00" cy="472.82" rx="66.22" ry="69.88" fill="#ff3900"/>
<ellipse cx="197.00" cy="472.64" rx="65.48" ry="69.17" fill="#ff3a00"/>
<ellipse cx="197.00" cy="472.47" rx="64.73" ry="68.47" fill="#ff3b00"/>
<ellipse cx="197.00" cy="472.29" rx="63.98" ry="67.76" fill="#ff3d00"/>
<ellipse cx="197.00" cy="472.11" rx="63.23" ry="67.06" fill="#ff3e00"/>
<ellipse cx="197.00" cy="471.94" rx="62.48" ry="66.36" fill="#ff4000"/>
<ellipse cx="197.00" cy="471.70" rx="62.05" ry="65.63" fill="#ff4100"/>
<ellipse cx="197.00" cy="471.45" rx="61.61" ry="64.90" fill="#ff4300"/>
<ellipse cx="197.00" cy="471.21" rx="61.17" ry="64.18" fill="#ff4500"/>
<ellipse cx="197.00" cy="470.97" rx="60.74" ry="63.45" fill="#ff4600"/>
<ellipse cx="197.00" cy="470.73" rx="60.30" ry="62.72" fill="#ff4800"/>
<ellipse cx="197.00" cy="470.49" rx="59.87" ry="62.00" fill="#ff4900"/>
<ellipse cx="197.00" cy="470.24" rx="59.43" ry="61.27" fill="#ff4b00"/>
<ellipse cx="197.00" cy="470.00" rx="58.99" ry="60.54" fill="#ff4d00"/>
<ellipse cx="197.00" cy="469.76" rx="58.56" ry="59.82" fill="#ff4e00"/>
<ellipse cx="197.00" cy="469.52" rx="58.12" ry="59.09" fill="#ff5000"/>
<ellipse cx="197.00" cy="469.37" rx="57.44" ry="58.32" fill="#ff5200"/>
<ellipse cx="197.00" cy="469.23" rx="56.77" ry="57.54" fill="#ff5400"/>
<ellipse cx="197.00" cy="469.08" rx="56.09" ry="56.77" fill="#ff5700"/>
<ellipse cx="197.00" cy="468.94" rx="55.41" ry="55.99" fill="#ff5900"/>
<ellipse cx="197.00" cy="468.79" rx="54.73" ry="55.22" fill="#ff5c00"/>
<ellipse cx="197.00" cy="468.64" rx="54.05" ry="54.44" fill="#ff5e00"/>
<ellipse cx="197.00" cy="468.50" rx="53.38" ry="53.67" fill="#ff6000"/>
<ellipse cx="197.00" cy="468.35" rx="52.70" ry="52.89" fill="#ff6300"/>
<ellipse cx="197.00" cy="468.21" rx="52.02" ry="52.12" fill="#ff6500"/>
<circle cx="197.00" cy="468.06" r="51.34" fill="#ff6800"/>
<ellipse cx="197.00" cy="467.92" rx="50.66" ry="50.57" fill="#ff6a00"/>
<ellipse cx="197.00" cy="467.77" rx="49.98" ry="49.79" fill="#ff6c00"/>
<ellipse cx="197.00" cy="467.63" rx="49.31" ry="49.02" fill="#ff6f00"/>
<ellipse cx="197.00" cy="467.48" rx="48.63" ry="48.24" fill="#ff7100"/>
<ellipse cx="197.00" cy="467.34" rx="47.95" ry="47.47" fill="#ff7400"/>
<ellipse cx="197.00" cy="467.19" rx="47.27" ry="46.69" fill="#ff7600"/>
<ellipse cx="197.00" cy="467.05" rx="46.59" ry="45.92" fill="#ff7800"/>
<ellipse cx="197.00" cy="466.90" rx="45.92" ry="45.14" fill="#ff7b00"/>
<ellipse cx="197.00" cy="466.76" rx="45.24" ry="44.37" fill="#ff7d00"/>
<ellipse cx="197.00" cy="466.61" rx="44.56" ry="43.59" fill="#ff8000"/>
<ellipse cx="197.00" cy="466.55" rx="43.77" ry="42.83" fill="#ff8300"/>
<ellipse cx="197.00" cy="466.49" rx="42.99" ry="42.08" fill="#ff8700"/>
<ellipse cx="197.00" cy="466.43" rx="42.20" ry="41.32" fill="#ff8b00"/>
<ellipse cx="197.00" cy="466.37" rx="41.41" ry="40.56" fill="#ff8f00"/>
<ellipse cx="197.00" cy="466.31" rx="40.62" ry="39.81" fill="#ff9300"/>
<ellipse cx="197.00" cy="466.25" rx="39.84" ry="39.05" fill="#ff9700"/>
<ellipse cx="197.00" cy="466.19" rx="39.05" ry="38.29" fill="#ff9b00"/>
<ellipse cx="197.00" cy="466.13" rx="38.26" ry="37.54" fill="#ff9f00"/>
<ellipse cx="197.00" cy="466.07" rx="37.48" ry="36.78" fill="#ffa300"/>
<ellipse cx="197.00" cy="466.01" rx="36.69" ry="36.02" fill="#ffa700"/>
<ellipse cx="197.00" cy="465.94" rx="35.90" ry="35.27" fill="#ffab00"/>
<ellipse cx="197.00" cy="465.88" rx="35.12" ry="34.51" fill="#ffaf00"/>
<ellipse cx="197.00" cy="465.82" rx="34.33" ry="33.75" fill="#ffb300"/>
<ellipse cx="197.00" cy="465.76" rx="33.54" ry="33.00" fill="#ffb700"/>
<ellipse cx="197.00" cy="465.70" rx="32.75" ry="32.24" fill="#ffbb00"/>
<ellipse cx="197.00" cy="465.64" rx="31.97" ry="31.48" fill="#ffbf00"/>
<ellipse cx="197.00" cy="465.62" rx="31.19" ry="30.76" fill="#ffc600"/>
<ellipse cx="197.00" cy="465.60" rx="30.42" ry="30.03" fill="#ffcc00"/>
<ellipse cx="197.00" cy="465.58" rx="29.64" ry="29.30" fill="#ffd200"/>
<ellipse cx="197.00" cy="465.56" rx="28.87" ry="28.58" fill="#ffd900"/>
<ellipse cx="197.00" cy="465.55" rx="28.09" ry="27.85" fill="#ffdf00"/>
<ellipse cx="197.00" cy="465.53" rx="27.32" ry="27.12" fill="#ffe600"/>
<ellipse cx="197.00" cy="465.51" rx="26.54" ry="26.40" fill="#ffec00"/>
<ellipse cx="197.00" cy="465.49" rx="25.77" ry="25.67" fill="#fff200"/>
<ellipse cx="197.00" cy="465.47" rx="24.99" ry="24.94" fill="#fff900"/>
<circle cx="197.00" cy="465.45" r="24.22" fill="#ffff00"/>
<circle cx="197.00" cy="465.45" r="24.22" fill="#ffff0c"/>
</g>
<g fill="none">
<linearGradient id="bdc" x1="0" y1="0" x2="0" y2="1"><stop offset="0.55" stop-color="#8a0000" stop-opacity="0"/><stop offset="0.92" stop-color="#8a0000" stop-opacity="0.7"/></linearGradient>
<circle cx="197.00" cy="429.80" r="111.31" stroke="url(#bdc)" stroke-width="2.0"/>
<circle cx="197.00" cy="429.80" r="111.21" stroke="#4a0000" stroke-width="0.85"/>
<circle cx="197.00" cy="465.45" r="61.42" stroke="#2e1c00" stroke-width="0.78"/>
<circle cx="197.00" cy="465.45" r="24.22" stroke="#3a3a00" stroke-width="0.9"/>
</g>
<rect x="197.20" y="316.37" width="0.7" height="226.87" fill="#3c3c30"/>
</g>
<rect x="35.80" y="304.80" width="212.40" height="249.30" fill="none" stroke="#3e3e3e" stroke-width="0.95"/>
<path d="M35.80 545.74h2.9M248.20 545.74h-2.9M35.80 526.37h2.9M248.20 526.37h-2.9M35.80 507.00h2.9M248.20 507.00h-2.9M35.80 487.62h2.9M248.20 487.62h-2.9M35.80 468.25h2.9M248.20 468.25h-2.9M35.80 448.87h2.9M248.20 448.87h-2.9M35.80 429.50h2.9M248.20 429.50h-2.9M35.80 410.13h2.9M248.20 410.13h-2.9M35.80 390.75h2.9M248.20 390.75h-2.9M35.80 371.38h2.9M248.20 371.38h-2.9M35.80 352.00h2.9M248.20 352.00h-2.9M35.80 332.63h2.9M248.20 332.63h-2.9M35.80 313.26h2.9M248.20 313.26h-2.9M51.70 304.80v2.7M51.70 554.10v-2.7M100.20 304.80v2.7M100.20 554.10v-2.7M148.70 304.80v2.7M148.70 554.10v-2.7M197.20 304.80v2.7M197.20 554.10v-2.7M245.70 304.80v2.7M245.70 554.10v-2.7" stroke="#3e3e3e" stroke-width="0.95" fill="none"/>
<g font-family='"DejaVu Sans","Liberation Sans",sans-serif' font-size="7.25" fill="#262626" stroke="#262626" stroke-width="0.22">
<text x="33.00" y="548.39" text-anchor="end">-120</text>
<text x="33.00" y="529.02" text-anchor="end">-100</text>
<text x="33.00" y="509.65" text-anchor="end">-80</text>
<text x="33.00" y="490.27" text-anchor="end">-60</text>
<text x="33.00" y="470.90" text-anchor="end">-40</text>
<text x="33.00" y="451.52" text-anchor="end">-20</text>
<text x="33.00" y="432.15" text-anchor="end">0</text>
<text x="33.00" y="412.78" text-anchor="end">20</text>
<text x="33.00" y="393.40" text-anchor="end">40</text>
<text x="33.00" y="374.03" text-anchor="end">60</text>
<text x="33.00" y="354.65" text-anchor="end">80</text>
<text x="33.00" y="335.28" text-anchor="end">100</text>
<text x="33.00" y="315.91" text-anchor="end">120</text>
<text x="52.00" y="565.10" text-anchor="middle">-150</text>
<text x="100.50" y="565.10" text-anchor="middle">-100</text>
<text x="149.00" y="565.10" text-anchor="middle">-50</text>
<text x="197.50" y="565.10" text-anchor="middle">0</text>
<text x="7.90" y="308.00" font-size="6.4">mm</text>
<text x="236.90" y="564.90" font-size="6.4">mm</text>
<text x="34.60" y="299.50">Surface: Temperature (degC) Surface: Temperature (degC)</text>
</g>
<text x="48.00" y="331.80" font-family='"Liberation Serif",serif' font-style="italic" font-size="20" fill="#0a0a0a" stroke="#0a0a0a" stroke-width="0.1">(c)</text>
<clipPath id="clipd"><path d="M443.10 316.37H442.20A113.43 113.43 0 0 0 442.20 543.23h0.9Z"/></clipPath>
<clipPath id="clipdi"><circle cx="442.20" cy="429.80" r="111.21"/></clipPath>
<g clip-path="url(#clipd)">
<linearGradient id="shd" x1="0" y1="0" x2="0" y2="1"><stop offset="0" stop-color="#e00000"/><stop offset="0.45" stop-color="#ff1000"/></linearGradient>
<circle cx="442.20" cy="429.80" r="113.43" fill="url(#shd)"/>
<g clip-path="url(#clipdi)">
<ellipse cx="442.20" cy="446.27" rx="118.18" ry="127.87" fill="#ec0000"/>
<ellipse cx="442.20" cy="446.67" rx="117.62" ry="127.14" fill="#ee0000"/>
<ellipse cx="442.20" cy="447.08" rx="117.05" ry="126.42" fill="#f10000"/>
<ellipse cx="442.20" cy="447.48" rx="116.49" ry="125.69" fill="#f30000"/>
<ellipse cx="442.20" cy="447.88" rx="115.92" ry="124.96" fill="#f50000"/>
<ellipse cx="442.20" cy="448.29" rx="115.36" ry="124.24" fill="#f80000"/>
<ellipse cx="442.20" cy="448.69" rx="114.79" ry="123.51" fill="#fa0000"/>
<ellipse cx="442.20" cy="449.11" rx="114.37" ry="122.72" fill="#fb0000"/>
<ellipse cx="442.20" cy="449.54" rx="113.94" ry="121.94" fill="#fd0000"/>
<ellipse cx="442.20" cy="449.96" rx="113.52" ry="121.15" fill="#fe0000"/>
<ellipse cx="442.20" cy="450.38" rx="113.10" ry="120.36" fill="#ff0000"/>
<ellipse cx="442.20" cy="450.81" rx="112.67" ry="119.57" fill="#ff0100"/>
<ellipse cx="442.20" cy="451.23" rx="112.25" ry="118.79" fill="#ff0300"/>
<ellipse cx="442.20" cy="451.66" rx="111.82" ry="118.00" fill="#ff0400"/>
<ellipse cx="442.20" cy="452.08" rx="111.40" ry="117.21" fill="#ff0500"/>
<ellipse cx="442.20" cy="452.54" rx="111.08" ry="116.43" fill="#ff0600"/>
<ellipse cx="442.20" cy="452.99" rx="110.75" ry="115.65" fill="#ff0600"/>
<ellipse cx="442.20" cy="453.45" rx="110.43" ry="114.87" fill="#ff0700"/>
<ellipse cx="442.20" cy="453.91" rx="110.11" ry="114.09" fill="#ff0800"/>
<ellipse cx="442.20" cy="454.37" rx="109.79" ry="113.31" fill="#ff0800"/>
<ellipse cx="442.20" cy="454.82" rx="109.46" ry="112.53" fill="#ff0900"/>
<ellipse cx="442.20" cy="455.28" rx="109.14" ry="111.75" fill="#ff0900"/>
<ellipse cx="442.20" cy="455.74" rx="108.82" ry="110.97" fill="#ff0a00"/>
<ellipse cx="442.20" cy="456.20" rx="108.49" ry="110.19" fill="#ff0b00"/>
<ellipse cx="442.20" cy="456.65" rx="108.17" ry="109.41" fill="#ff0b00"/>
<ellipse cx="442.20" cy="457.11" rx="107.85" ry="108.63" fill="#ff0c00"/>
<ellipse cx="442.20" cy="457.57" rx="107.53" ry="107.85" fill="#ff0c00"/>
<ellipse cx="442.20" cy="458.03" rx="107.20" ry="107.07" fill="#ff0d00"/>
<ellipse cx="442.20" cy="458.48" rx="106.88" ry="106.29" fill="#ff0e00"/>
<ellipse cx="442.20" cy="458.94" rx="106.56" ry="105.51" fill="#ff0e00"/>
<ellipse cx="442.20" cy="459.40" rx="106.23" ry="104.73" fill="#ff0f00"/>
<ellipse cx="442.20" cy="459.86" rx="105.91" ry="103.95" fill="#ff0f00"/>
<ellipse cx="442.20" cy="460.31" rx="105.59" ry="103.17" fill="#ff1000"/>
<ellipse cx="442.20" cy="460.60" rx="104.79" ry="102.49" fill="#ff1000"/>
<ellipse cx="442.20" cy="460.90" rx="104.00" ry="101.81" fill="#ff1100"/>
<ellipse cx="442.20" cy="461.19" rx="103.21" ry="101.13" fill="#ff1100"/>
<ellipse cx="442.20" cy="461.48" rx="102.41" ry="100.45" fill="#ff1200"/>
<ellipse cx="442.20" cy="461.77" rx="101.62" ry="99.78" fill="#ff1200"/>
<ellipse cx="442.20" cy="462.06" rx="100.82" ry="99.10" fill="#ff1200"/>
<ellipse cx="442.20" cy="462.35" rx="100.03" ry="98.42" fill="#ff1300"/>
<ellipse cx="442.20" cy="462.64" rx="99.23" ry="97.74" fill="#ff1300"/>
<ellipse cx="442.20" cy="462.93" rx="98.44" ry="97.06" fill="#ff1400"/>
<ellipse cx="442.20" cy="463.22" rx="97.64" ry="96.39" fill="#ff1400"/>
<ellipse cx="442.20" cy="463.51" rx="96.85" ry="95.71" fill="#ff1500"/>
<ellipse cx="442.20" cy="463.80" rx="96.06" ry="95.03" fill="#ff1500"/>
<ellipse cx="442.20" cy="464.09" rx="95.26" ry="94.35" fill="#ff1500"/>
<ellipse cx="442.20" cy="464.38" rx="94.47" ry="93.67" fill="#ff1600"/>
<ellipse cx="442.20" cy="464.67" rx="93.67" ry="93.00" fill="#ff1600"/>
<ellipse cx="442.20" cy="464.96" rx="92.88" ry="92.32" fill="#ff1700"/>
<ellipse cx="442.20" cy="465.25" rx="92.08" ry="91.64" fill="#ff1700"/>
<ellipse cx="442.20" cy="465.55" rx="91.29" ry="90.96" fill="#ff1800"/>
<ellipse cx="442.20" cy="465.84" rx="90.50" ry="90.28" fill="#ff1800"/>
<ellipse cx="442.20" cy="466.13" rx="89.70" ry="89.60" fill="#ff1800"/>
<ellipse cx="442.20" cy="466.42" rx="88.91" ry="88.93" fill="#ff1900"/>
<ellipse cx="442.20" cy="466.71" rx="88.11" ry="88.25" fill="#ff1900"/>
<ellipse cx="442.20" cy="467.00" rx="87.32" ry="87.57" fill="#ff1a00"/>
<ellipse cx="442.20" cy="467.29" rx="86.52" ry="86.89" fill="#ff1a00"/>
<ellipse cx="442.20" cy="467.58" rx="85.73" ry="86.21" fill="#ff1b00"/>
<ellipse cx="442.20" cy="467.66" rx="84.95" ry="85.60" fill="#ff1b00"/>
<ellipse cx="442.20" cy="467.74" rx="84.17" ry="84.98" fill="#ff1b00"/>
<ellipse cx="442.20" cy="467.82" rx="83.39" ry="84.36" fill="#ff1b00"/>
<ellipse cx="442.20" cy="467.90" rx="82.61" ry="83.74" fill="#ff1c00"/>
<ellipse cx="442.20" cy="467.98" rx="81.83" ry="83.12" fill="#ff1c00"/>
<ellipse cx="442.20" cy="468.06" rx="81.05" ry="82.50" fill="#ff1c00"/>
<ellipse cx="442.20" cy="468.14" rx="80.27" ry="81.88" fill="#ff1d00"/>
<ellipse cx="442.20" cy="468.23" rx="79.49" ry="81.26" fill="#ff1d00"/>
<ellipse cx="442.20" cy="468.31" rx="78.71" ry="80.64" fill="#ff1d00"/>
<ellipse cx="442.20" cy="468.39" rx="77.93" ry="80.03" fill="#ff1e00"/>
<ellipse cx="442.20" cy="468.47" rx="77.15" ry="79.41" fill="#ff1e00"/>
<ellipse cx="442.20" cy="468.55" rx="76.37" ry="78.79" fill="#ff1e00"/>
<ellipse cx="442.20" cy="468.63" rx="75.59" ry="78.17" fill="#ff1e00"/>
<ellipse cx="442.20" cy="468.71" rx="74.81" ry="77.55" fill="#ff1f00"/>
<ellipse cx="442.20" cy="468.79" rx="74.02" ry="76.93" fill="#ff1f00"/>
<ellipse cx="442.20" cy="468.87" rx="73.24" ry="76.31" fill="#ff1f00"/>
<ellipse cx="442.20" cy="468.95" rx="72.46" ry="75.69" fill="#ff2000"/>
<ellipse cx="442.20" cy="469.03" rx="71.68" ry="75.07" fill="#ff2000"/>
<ellipse cx="442.20" cy="468.96" rx="70.99" ry="74.31" fill="#ff2100"/>
<ellipse cx="442.20" cy="468.89" rx="70.30" ry="73.55" fill="#ff2200"/>
<ellipse cx="442.20" cy="468.82" rx="69.61" ry="72.79" fill="#ff2300"/>
<ellipse cx="442.20" cy="468.76" rx="68.92" ry="72.03" fill="#ff2400"/>
<ellipse cx="442.20" cy="468.69" rx="68.22" ry="71.27" fill="#ff2600"/>
<ellipse cx="442.20" cy="468.62" rx="67.53" ry="70.51" fill="#ff2700"/>
<ellipse cx="442.20" cy="468.55" rx="66.84" ry="69.75" fill="#ff2800"/>
<ellipse cx="442.20" cy="468.48" rx="66.15" ry="68.99" fill="#ff2900"/>
<ellipse cx="442.20" cy="468.41" rx="65.46" ry="68.22" fill="#ff2a00"/>
<ellipse cx="442.20" cy="468.34" rx="64.76" ry="67.46" fill="#ff2b00"/>
<ellipse cx="442.20" cy="468.27" rx="64.07" ry="66.70" fill="#ff2c00"/>
<ellipse cx="442.20" cy="468.20" rx="63.38" ry="65.94" fill="#ff2e00"/>
<ellipse cx="442.20" cy="468.13" rx="62.69" ry="65.18" fill="#ff2f00"/>
<ellipse cx="442.20" cy="468.06" rx="62.00" ry="64.42" fill="#ff3000"/>
<ellipse cx="442.20" cy="468.03" rx="61.37" ry="63.62" fill="#ff3200"/>
<ellipse cx="442.20" cy="467.99" rx="60.75" ry="62.83" fill="#ff3400"/>
<ellipse cx="442.20" cy="467.96" rx="60.13" ry="62.03" fill="#ff3700"/>
<ellipse cx="442.20" cy="467.93" rx="59.51" ry="61.24" fill="#ff3900"/>
<ellipse cx="442.20" cy="467.89" rx="58.88" ry="60.44" fill="#ff3b00"/>
<ellipse cx="442.20" cy="467.86" rx="58.26" ry="59.64" fill="#ff3d00"/>
<ellipse cx="442.20" cy="467.82" rx="57.64" ry="58.85" fill="#ff4000"/>
<ellipse cx="442.20" cy="467.79" rx="57.01" ry="58.05" fill="#ff4200"/>
<ellipse cx="442.20" cy="467.75" rx="56.39" ry="57.26" fill="#ff4400"/>
<ellipse cx="442.20" cy="467.72" rx="55.77" ry="56.46" fill="#ff4700"/>
<ellipse cx="442.20" cy="467.68" rx="55.15" ry="55.67" fill="#ff4900"/>
<ellipse cx="442.20" cy="467.65" rx="54.52" ry="54.87" fill="#ff4b00"/>
<ellipse cx="442.20" cy="467.61" rx="53.90" ry="54.07" fill="#ff4d00"/>
<circle cx="442.20" cy="467.58" r="53.28" fill="#ff5000"/>
<ellipse cx="442.20" cy="467.48" rx="52.52" ry="52.48" fill="#ff5300"/>
<ellipse cx="442.20" cy="467.37" rx="51.76" ry="51.69" fill="#ff5700"/>
<ellipse cx="442.20" cy="467.27" rx="51.00" ry="50.89" fill="#ff5a00"/>
<ellipse cx="442.20" cy="467.16" rx="50.23" ry="50.10" fill="#ff5d00"/>
<ellipse cx="442.20" cy="467.06" rx="49.47" ry="49.30" fill="#ff6100"/>
<ellipse cx="442.20" cy="466.96" rx="48.71" ry="48.50" fill="#ff6400"/>
<ellipse cx="442.20" cy="466.85" rx="47.95" ry="47.71" fill="#ff6800"/>
<ellipse cx="442.20" cy="466.75" rx="47.19" ry="46.91" fill="#ff6b00"/>
<ellipse cx="442.20" cy="466.65" rx="46.43" ry="46.12" fill="#ff6e00"/>
<ellipse cx="442.20" cy="466.54" rx="45.67" ry="45.32" fill="#ff7200"/>
<ellipse cx="442.20" cy="466.44" rx="44.91" ry="44.53" fill="#ff7500"/>
<ellipse cx="442.20" cy="466.33" rx="44.15" ry="43.73" fill="#ff7900"/>
<ellipse cx="442.20" cy="466.23" rx="43.38" ry="42.93" fill="#ff7c00"/>
<ellipse cx="442.20" cy="466.13" rx="42.62" ry="42.14" fill="#ff8000"/>
<ellipse cx="442.20" cy="466.09" rx="41.85" ry="41.40" fill="#ff8400"/>
<ellipse cx="442.20" cy="466.06" rx="41.07" ry="40.65" fill="#ff8800"/>
<ellipse cx="442.20" cy="466.03" rx="40.30" ry="39.91" fill="#ff8c00"/>
<ellipse cx="442.20" cy="466.00" rx="39.52" ry="39.17" fill="#ff9100"/>
<ellipse cx="442.20" cy="465.96" rx="38.75" ry="38.43" fill="#ff9500"/>
<ellipse cx="442.20" cy="465.93" rx="37.97" ry="37.68" fill="#ff9900"/>
<ellipse cx="442.20" cy="465.90" rx="37.20" ry="36.94" fill="#ff9d00"/>
<ellipse cx="442.20" cy="465.87" rx="36.42" ry="36.20" fill="#ffa200"/>
<ellipse cx="442.20" cy="465.84" rx="35.65" ry="35.45" fill="#ffa600"/>
<ellipse cx="442.20" cy="465.80" rx="34.87" ry="34.71" fill="#ffaa00"/>
<ellipse cx="442.20" cy="465.77" rx="34.10" ry="33.97" fill="#ffae00"/>
<ellipse cx="442.20" cy="465.74" rx="33.32" ry="33.23" fill="#ffb200"/>
<ellipse cx="442.20" cy="465.71" rx="32.55" ry="32.48" fill="#ffb700"/>
<ellipse cx="442.20" cy="465.67" rx="31.77" ry="31.74" fill="#ffbb00"/>
<circle cx="442.20" cy="465.64" r="31.00" fill="#ffbf00"/>
<circle cx="442.20" cy="465.62" r="30.24" fill="#ffc600"/>
<circle cx="442.20" cy="465.60" r="29.49" fill="#ffcd00"/>
<circle cx="442.20" cy="465.58" r="28.74" fill="#ffd400"/>
<circle cx="442.20" cy="465.56" r="27.98" fill="#ffdc00"/>
<circle cx="442.20" cy="465.53" r="27.23" fill="#ffe300"/>
<circle cx="442.20" cy="465.51" r="26.48" fill="#ffea00"/>
<circle cx="442.20" cy="465.49" r="25.72" fill="#fff100"/>
<circle cx="442.20" cy="465.47" r="24.97" fill="#fff800"/>
<circle cx="442.20" cy="465.45" r="24.22" fill="#ffff00"/>
<circle cx="442.20" cy="465.45" r="24.22" fill="#ffff0c"/>
</g>
<g fill="none">
<linearGradient id="bdd" x1="0" y1="0" x2="0" y2="1"><stop offset="0.55" stop-color="#8a0000" stop-opacity="0"/><stop offset="0.92" stop-color="#8a0000" stop-opacity="0.7"/></linearGradient>
<circle cx="442.20" cy="429.80" r="111.31" stroke="url(#bdd)" stroke-width="2.0"/>
<circle cx="442.20" cy="429.80" r="111.21" stroke="#4a0000" stroke-width="0.85"/>
<circle cx="442.20" cy="465.45" r="61.42" stroke="#2e1c00" stroke-width="0.78"/>
<circle cx="442.20" cy="465.45" r="24.22" stroke="#3a3a00" stroke-width="0.9"/>
</g>
<rect x="442.40" y="316.37" width="0.7" height="226.87" fill="#3c3c30"/>
</g>
<rect x="281.00" y="304.80" width="212.40" height="249.30" fill="none" stroke="#3e3e3e" stroke-width="0.95"/>
<path d="M281.00 545.74h2.9M493.40 545.74h-2.9M281.00 526.37h2.9M493.40 526.37h-2.9M281.00 507.00h2.9M493.40 507.00h-2.9M281.00 487.62h2.9M493.40 487.62h-2.9M281.00 468.25h2.9M493.40 468.25h-2.9M281.00 448.87h2.9M493.40 448.87h-2.9M281.00 429.50h2.9M493.40 429.50h-2.9M281.00 410.13h2.9M493.40 410.13h-2.9M281.00 390.75h2.9M493.40 390.75h-2.9M281.00 371.38h2.9M493.40 371.38h-2.9M281.00 352.00h2.9M493.40 352.00h-2.9M281.00 332.63h2.9M493.40 332.63h-2.9M281.00 313.26h2.9M493.40 313.26h-2.9M296.90 304.80v2.7M296.90 554.10v-2.7M345.40 304.80v2.7M345.40 554.10v-2.7M393.90 304.80v2.7M393.90 554.10v-2.7M442.40 304.80v2.7M442.40 554.10v-2.7M490.90 304.80v2.7M490.90 554.10v-2.7" stroke="#3e3e3e" stroke-width="0.95" fill="none"/>
<g font-family='"DejaVu Sans","Liberation Sans",sans-serif' font-size="7.25" fill="#262626" stroke="#262626" stroke-width="0.22">
<text x="278.80" y="548.39" text-anchor="end">-120</text>
<text x="278.80" y="529.02" text-anchor="end">-100</text>
<text x="278.80" y="509.65" text-anchor="end">-80</text>
<text x="278.80" y="490.27" text-anchor="end">-60</text>
<text x="278.80" y="470.90" text-anchor="end">-40</text>
<text x="278.80" y="451.52" text-anchor="end">-20</text>
<text x="278.80" y="432.15" text-anchor="end">0</text>
<text x="278.80" y="412.78" text-anchor="end">20</text>
<text x="278.80" y="393.40" text-anchor="end">40</text>
<text x="278.80" y="374.03" text-anchor="end">60</text>
<text x="278.80" y="354.65" text-anchor="end">80</text>
<text x="278.80" y="335.28" text-anchor="end">100</text>
<text x="278.80" y="315.91" text-anchor="end">120</text>
<text x="297.80" y="565.10" text-anchor="middle">-150</text>
<text x="346.30" y="565.10" text-anchor="middle">-100</text>
<text x="394.80" y="565.10" text-anchor="middle">-50</text>
<text x="443.30" y="565.10" text-anchor="middle">0</text>
<text x="254.00" y="308.00" font-size="6.4">mm</text>
<text x="482.10" y="564.90" font-size="6.4">mm</text>
<text x="280.40" y="299.50">Surface: Temperature (degC) Surface: Temperature (degC)</text>
</g>
<text x="291.90" y="331.80" font-family='"Liberation Serif",serif' font-style="italic" font-size="20" fill="#0a0a0a" stroke="#0a0a0a" stroke-width="0.1">(d)</text>
<linearGradient id="cb0" x1="0" y1="0" x2="0" y2="1"><stop offset="0.0000" stop-color="#ffffff"/><stop offset="0.0333" stop-color="#ffffe3"/><stop offset="0.0833" stop-color="#ffffb9"/><stop offset="0.1333" stop-color="#ffff92"/><stop offset="0.1833" stop-color="#ffff6d"/><stop offset="0.2333" stop-color="#ffff4b"/><stop offset="0.2833" stop-color="#ffff2c"/><stop offset="0.3333" stop-color="#ffff12"/><stop offset="0.3833" stop-color="#ffff00"/><stop offset="0.4167" stop-color="#ffff00"/><stop offset="0.5000" stop-color="#ffc200"/><stop offset="0.5833" stop-color="#ff8600"/><stop offset="0.6667" stop-color="#ff4900"/><stop offset="0.7667" stop-color="#ff0000"/><stop offset="0.8833" stop-color="#bb0000"/><stop offset="1.0000" stop-color="#780000"/></linearGradient>
<rect x="505.40" y="39.10" width="10.30" height="227.40" fill="#767676"/>
<rect x="506.35" y="40.05" width="8.40" height="226.35" fill="url(#cb0)"/>
<g font-family='"DejaVu Sans","Liberation Sans",sans-serif' font-size="7.25" fill="#262626" stroke="#262626" stroke-width="0.22">
<text x="520.6" y="268.90">20</text>
<text x="520.6" y="231.10">30</text>
<text x="520.6" y="193.30">40</text>
<text x="520.6" y="155.50">50</text>
<text x="520.6" y="117.70">60</text>
<text x="520.6" y="79.90">70</text>
<text x="520.6" y="42.10">80</text>
</g>
<path d="M506.30 228.60h1.6M514.80 228.60h-1.6M506.30 190.80h1.6M514.80 190.80h-1.6M506.30 153.00h1.6M514.80 153.00h-1.6M506.30 115.20h1.6M514.80 115.20h-1.6M506.30 77.40h1.6M514.80 77.40h-1.6" stroke="#1a1a1a" stroke-width="0.9" fill="none"/>
<linearGradient id="cb1" x1="0" y1="0" x2="0" y2="1"><stop offset="0.0000" stop-color="#ffffff"/><stop offset="0.0333" stop-color="#ffffe3"/><stop offset="0.0833" stop-color="#ffffb9"/><stop offset="0.1333" stop-color="#ffff92"/><stop offset="0.1833" stop-color="#ffff6d"/><stop offset="0.2333" stop-color="#ffff4b"/><stop offset="0.2833" stop-color="#ffff2c"/><stop offset="0.3333" stop-color="#ffff12"/><stop offset="0.3833" stop-color="#ffff00"/><stop offset="0.4167" stop-color="#ffff00"/><stop offset="0.5000" stop-color="#ffc200"/><stop offset="0.5833" stop-color="#ff8600"/><stop offset="0.6667" stop-color="#ff4900"/><stop offset="0.7667" stop-color="#ff0000"/><stop offset="0.8833" stop-color="#bb0000"/><stop offset="1.0000" stop-color="#780000"/></linearGradient>
<rect x="505.40" y="323.40" width="10.30" height="227.40" fill="#767676"/>
<rect x="506.35" y="324.35" width="8.40" height="226.35" fill="url(#cb1)"/>
<g font-family='"DejaVu Sans","Liberation Sans",sans-serif' font-size="7.25" fill="#262626" stroke="#262626" stroke-width="0.22">
<text x="520.6" y="553.20">20</text>
<text x="520.6" y="515.40">30</text>
<text x="520.6" y="477.60">40</text>
<text x="520.6" y="439.80">50</text>
<text x="520.6" y="402.00">60</text>
<text x="520.6" y="364.20">70</text>
<text x="520.6" y="326.40">80</text>
</g>
<path d="M506.30 512.90h1.6M514.80 512.90h-1.6M506.30 475.10h1.6M514.80 475.10h-1.6M506.30 437.30h1.6M514.80 437.30h-1.6M506.30 399.50h1.6M514.80 399.50h-1.6M506.30 361.70h1.6M514.80 361.70h-1.6" stroke="#1a1a1a" stroke-width="0.9" fill="none"/>
<linearGradient id="ic4" x1="0" y1="0" x2="0" y2="1"><stop offset="0" stop-color="#3560d4"/><stop offset="1" stop-color="#10268a"/></linearGradient><linearGradient id="ic4b" x1="0" y1="0" x2="1" y2="0"><stop offset="0" stop-color="#2a55cc"/><stop offset="0.55" stop-color="#48b4e8"/><stop offset="1" stop-color="#1c46c0"/></linearGradient><rect x="534.80" y="4.15" width="9.8" height="7.7" rx="2.2" fill="#eef0f6"/><rect x="535.40" y="4.75" width="8.6" height="6.5" rx="1.7" fill="url(#ic4)"/><rect x="536.80" y="6.25" width="5.4" height="3.7" rx="0.5" fill="url(#ic4b)"/><path d="M536.90 6.05L541.00 8.10L536.90 10.15Z" fill="#ffe62a"/>
<linearGradient id="ic289" x1="0" y1="0" x2="0" y2="1"><stop offset="0" stop-color="#3560d4"/><stop offset="1" stop-color="#10268a"/></linearGradient><linearGradient id="ic289b" x1="0" y1="0" x2="1" y2="0"><stop offset="0" stop-color="#2a55cc"/><stop offset="0.55" stop-color="#48b4e8"/><stop offset="1" stop-color="#1c46c0"/></linearGradient><rect x="534.80" y="288.70" width="9.8" height="7.7" rx="2.2" fill="#eef0f6"/><rect x="535.40" y="289.30" width="8.6" height="6.5" rx="1.7" fill="url(#ic289)"/><rect x="536.80" y="290.80" width="5.4" height="3.7" rx="0.5" fill="url(#ic289b)"/><path d="M536.90 290.60L541.00 292.65L536.90 294.70Z" fill="#ffe62a"/>
</svg>
</body></html>
